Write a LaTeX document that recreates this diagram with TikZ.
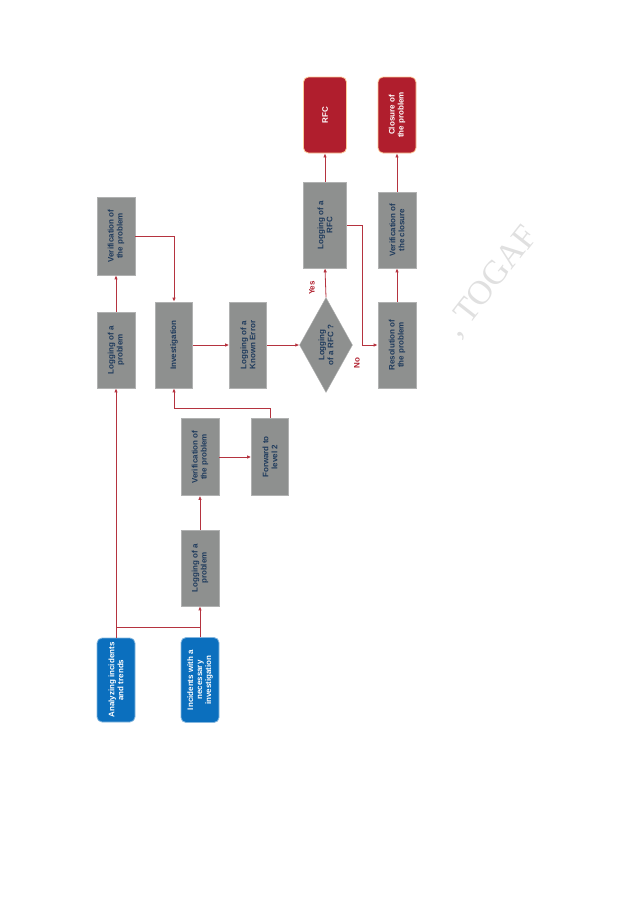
\documentclass[tikz,border=0pt]{standalone}
\usepackage{fontspec}
\setmainfont{Liberation Sans}
\newfontfamily\wmfont{Liberation Serif}
\usetikzlibrary{shapes.geometric,arrows.meta}
\definecolor{boxgray}{HTML}{8E908F}
\definecolor{navy}{HTML}{1E3A5C}
\definecolor{rred}{HTML}{B01E2D}
\definecolor{bblue}{HTML}{0B6FBE}
\definecolor{lred}{HTML}{B5333F}
\begin{document}
\begin{tikzpicture}[x=1pt,y=-1pt,
  gbox/.style={rectangle,fill=boxgray,draw=boxgray!70!white,line width=0.6pt,rotate=90,minimum width=76pt,minimum height=38pt,inner sep=1pt,align=center,font=\fontsize{8}{9}\selectfont\bfseries,text=navy},
  rbox/.style={rectangle,rounded corners=5pt,fill=rred,draw=orange!40!white,line width=0.8pt,rotate=90,minimum width=76pt,minimum height=42pt,inner sep=1pt,align=center,font=\fontsize{8}{9}\selectfont\bfseries,text=white},
  bbox/.style={rectangle,rounded corners=5pt,fill=bblue,draw=bblue!50!white,line width=0.8pt,rotate=90,minimum width=84pt,minimum height=38pt,inner sep=1pt,align=center,font=\fontsize{8}{9}\selectfont\bfseries,text=white},
  conn/.style={draw=lred,line width=0.8pt},
  arr/.style={conn,-{Latex[length=4pt,width=3.5pt]}},
  lab/.style={text=rred,font=\fontsize{8}{9}\selectfont\bfseries,rotate=90}
]
\useasboundingbox (0,0) rectangle (638,903);
\node[gbox] (lp1) at (116,350) {Logging of a\\problem};
\node[gbox,minimum width=78pt] (vp1) at (116,236) {Verification of\\the problem};
\node[gbox,minimum width=86pt,minimum height=37pt] (inv) at (174,345) {Investigation};
\node[gbox,minimum width=86pt,minimum height=37pt] (ke) at (248,345) {Logging of a\\Known Error};
\node[diamond,fill=boxgray,draw=boxgray!70!white,rotate=90,inner sep=0pt,minimum width=95pt,minimum height=53pt,aspect=1.8,align=center,font=\fontsize{8}{9}\selectfont\bfseries,text=navy] (dec) at (326,345) {Logging\\of a RFC ?};
\node[gbox,minimum width=86pt,minimum height=43pt] (lrfc) at (325,225) {Logging of a\\RFC};
\node[rbox,minimum height=43pt] (rfc) at (325,115) {RFC};
\node[rbox,minimum height=38pt] (clo) at (397,115) {Closure of\\the problem};
\node[gbox,minimum width=76pt] (vc) at (397,230) {Verification of\\the closure};
\node[gbox,minimum width=86pt] (res) at (397,345) {Resolution of\\the problem};
\node[gbox,minimum width=77pt] (vp2) at (200,457) {Verification of\\the problem};
\node[gbox,minimum width=77pt,minimum height=37pt] (fw) at (270,457) {Forward to\\level 2};
\node[gbox] (lp2) at (200,568) {Logging of a\\problem};
\node[bbox] (ana) at (116,680) {Analyzing incidents\\and trends};
\node[bbox,minimum width=85pt] (inc) at (200,680) {Incidents with a\\necessary\\investigation};
\coordinate (j1) at (116,627);
\coordinate (j2) at (200,627);
% connectors
\draw[arr] (ana.east) -- (lp1.west);
\draw[conn] (j1) -- (j2);
\draw[arr] (inc.east) -- (lp2.west);
\draw[arr] (lp2.east) -- (vp2.west);
\draw[arr] (vp2.south) -- (fw.north);
\draw[arr] (fw.east) -- (270,408) -| (inv.west);
\draw[arr] (lp1.east) -- (vp1.west);
\draw[arr] (vp1.south) -| (inv.east);
\draw[arr] (inv.south) -- (ke.north);
\draw[arr] (ke.south) -- (dec.north);
\draw[arr] (dec.east) -- (lrfc.west);
\draw[arr] (lrfc.east) -- (rfc.west);
\draw[arr] (lrfc.south) -- (362,225) |- (res.north);
\draw[arr] (res.east) -- (vc.west);
\draw[arr] (vc.east) -- (clo.west);
\node[lab] (yes) at (312,288) {Yes};
\node[lab] (no) at (357,363) {No};
\node[text=black!12,rotate=52,font=\fontsize{34}{34}\selectfont\wmfont] (wm) at (492,282) {, TOGAF};
\end{tikzpicture}
\end{document}
